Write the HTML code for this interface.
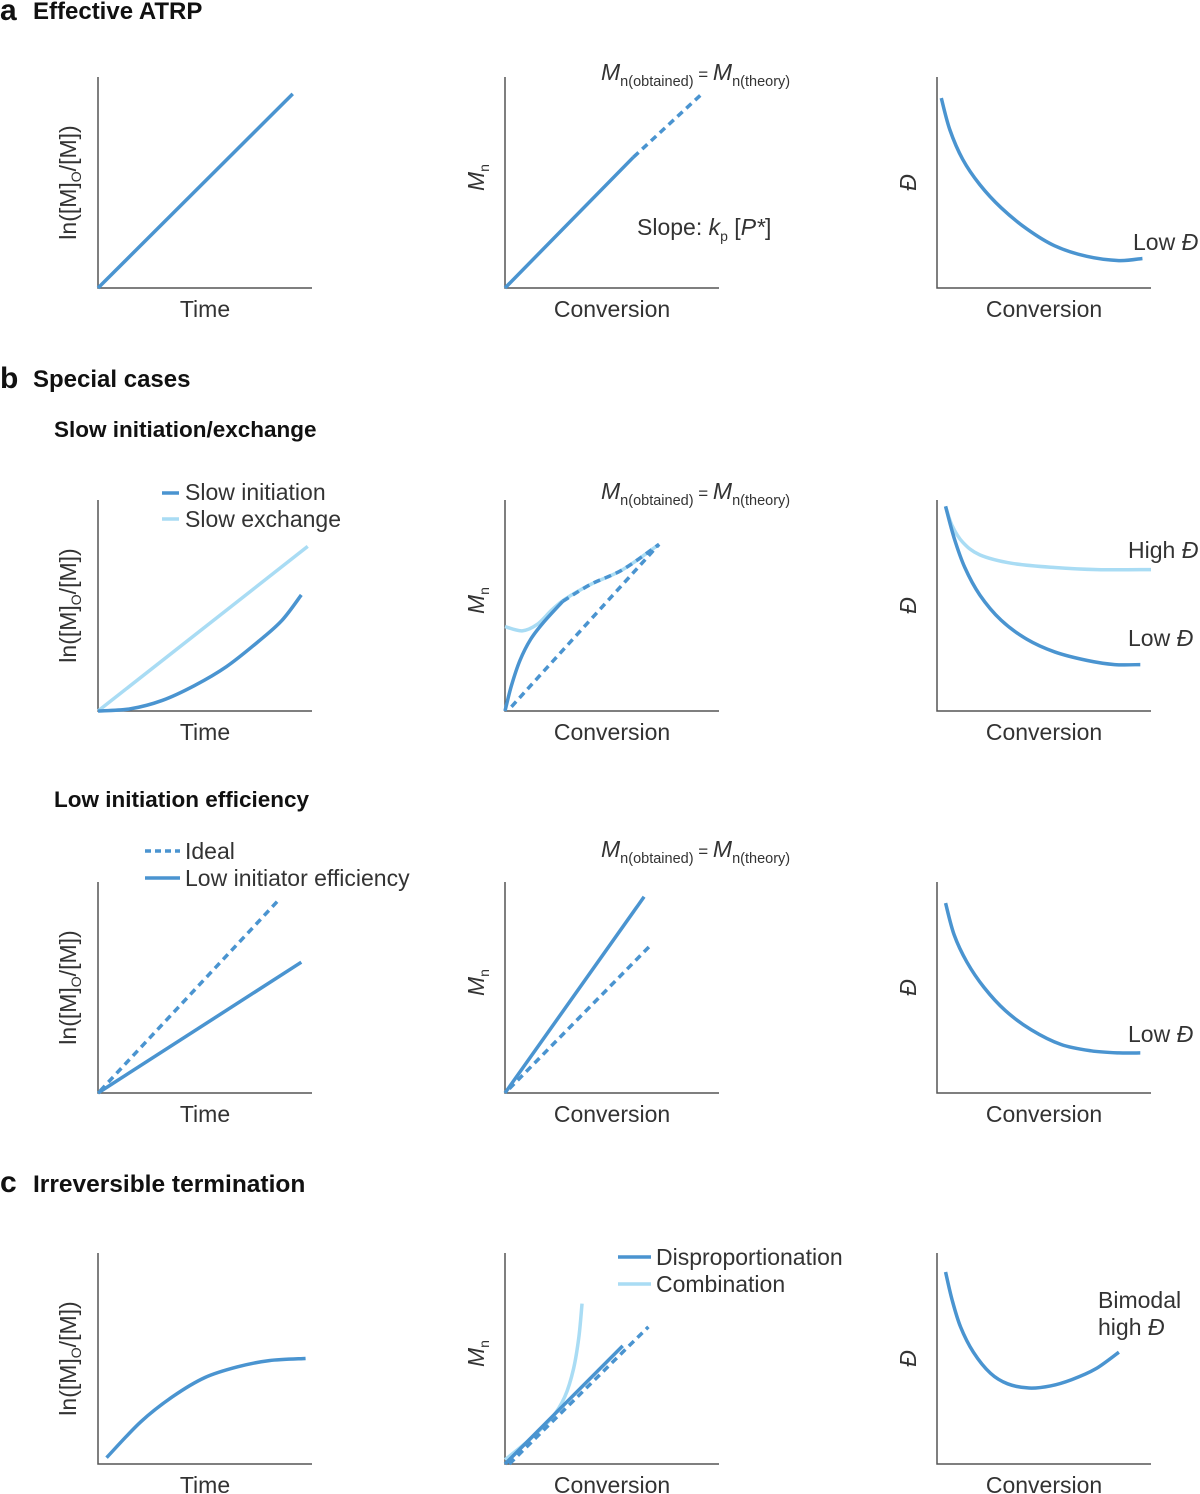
<!DOCTYPE html>
<html><head><meta charset="utf-8"><style>
body{margin:0;background:#fff}
svg{display:block;font-family:"Liberation Sans",sans-serif}
.h{font-weight:bold;fill:#111}
.t{fill:#333;font-size:23px}
.s{fill:#333}
</style></head><body>
<svg id="fig" width="1200" height="1494" viewBox="0 0 1200 1494" xmlns="http://www.w3.org/2000/svg">
<g>
<text class="h" x="0" y="20" font-size="30">a</text>
<text class="h" x="33" y="19" font-size="24">Effective ATRP</text>
<text class="h" x="0" y="388" font-size="30">b</text>
<text class="h" x="33" y="387" font-size="24">Special cases</text>
<text class="h" x="54" y="437" font-size="22.5">Slow initiation/exchange</text>
<text class="h" x="54" y="807" font-size="22.5">Low initiation efficiency</text>
<text class="h" x="0" y="1192" font-size="30">c</text>
<text class="h" x="33" y="1192" font-size="24.5">Irreversible termination</text>
</g>
<g id="plots"></g>
<g>
<text class="t" x="637" y="235">Slope: <tspan font-style="italic">k</tspan><tspan font-size="14" dy="6">p</tspan><tspan dy="-6"> [</tspan><tspan font-style="italic">P*</tspan>]</text>
<text class="t" x="1133" y="250">Low <tspan font-style="italic">Đ</tspan></text>
<text class="t" x="1128" y="558">High <tspan font-style="italic">Đ</tspan></text>
<text class="t" x="1128" y="646">Low <tspan font-style="italic">Đ</tspan></text>
<text class="t" x="1128" y="1042">Low <tspan font-style="italic">Đ</tspan></text>
<text class="t" x="1098" y="1308">Bimodal</text>
<text class="t" x="1098" y="1335">high <tspan font-style="italic">Đ</tspan></text>
<line x1="162" y1="493" x2="179" y2="493" stroke="#4a94d0" stroke-width="3.5"/>
<text class="t" x="185" y="500">Slow initiation</text>
<line x1="162" y1="519" x2="179" y2="519" stroke="#a9dcf4" stroke-width="3.5"/>
<text class="t" x="185" y="527">Slow exchange</text>
<line x1="145" y1="851" x2="180" y2="851" stroke="#4a94d0" stroke-width="3.5" stroke-dasharray="6,4"/>
<text class="t" x="185" y="859">Ideal</text>
<line x1="145" y1="878" x2="180" y2="878" stroke="#4a94d0" stroke-width="3.5"/>
<text class="t" x="185" y="886">Low initiator efficiency</text>
<line x1="618" y1="1257" x2="651" y2="1257" stroke="#4a94d0" stroke-width="3.5"/>
<text class="t" x="656" y="1265">Disproportionation</text>
<line x1="618" y1="1284" x2="651" y2="1284" stroke="#a9dcf4" stroke-width="3.5"/>
<text class="t" x="656" y="1292">Combination</text>
</g>
</svg>
<script>
// column/row layout
const colX = [98, 505, 937];
const rowBottom = [288, 711, 1093, 1464];
const W = 214, H = 211;
// series data (x,y in 0-100 units)
const aKin = [[0,0],[91,92]];
const aMnSolid = [[0,0],[60,62]];
const aMnDash = [[60,62],[92,92]];
const aD = [[2,90],[6,75],[12,61],[20,49],[30,38],[42,28],[55,20],[70,15],[85,13],[96,14]];
const b1Light = [[0,0],[98,78]];
const b1Dark = [[0,0],[15,1],[30,5],[45,12],[60,21],[75,33],[86,43],[95,55]];
const b1Ideal = [[3,2],[72,79]];
const b1MnLight = [[0,40],[8,38],[15,41],[22,48],[28,53],[40,60],[55,67],[72,79]];
const b1MnDark = [[0,0],[3,12],[7,24],[12,34],[18,42],[27,52]];
const b1MnDarkDash = [[27,52],[40,60],[55,67],[72,79]];
const b1High = [[4,97],[7,88],[12,80],[20,74],[35,70],[55,68],[75,67],[100,67]];
const b1Low = [[4,97],[8,82],[13,68],[20,55],[30,43],[42,34],[55,28],[70,24],[83,22],[95,22]];
const b2Ideal = [[1,1],[84,91]];
const b2Low = [[0,0],[95,62]];
const b2MnSolid = [[0,0],[65,93]];
const b2MnDash = [[2,2],[68,70]];
const b2D = [[4,90],[8,75],[14,62],[22,50],[32,39],[44,30],[58,23],[72,20],[85,19],[95,19]];
const cKin = [[4,3],[20,20],[35,32],[50,41],[65,46],[80,49],[97,50]];
const cMnDash = [[2,0],[67,65]];
const cMnSolid = [[0,0],[55,56]];
const cMnLight = [[0,2],[12,12],[22,22],[28,32],[32,45],[34.5,60],[36,76]];
const cD = [[4,91],[7,78],[11,65],[17,53],[25,43],[33,38],[43,36],[53,37],[63,40],[74,45],[85,53]];

const DARK = '#4a94d0', LIGHT = '#a9dcf4';
const svgNS = 'http://www.w3.org/2000/svg';
const plots = document.getElementById('plots');
function sx(c, v){ return colX[c] + v / 100 * W; }
function sy(r, v){ return rowBottom[r] - v / 100 * H; }
function pathD(c, r, pts){
  if (pts.length === 2) return 'M' + sx(c,pts[0][0]) + ',' + sy(r,pts[0][1]) + 'L' + sx(c,pts[1][0]) + ',' + sy(r,pts[1][1]);
  const P = pts.map(p => [sx(c,p[0]), sy(r,p[1])]);
  let d = 'M' + P[0][0] + ',' + P[0][1];
  for (let i = 0; i < P.length - 1; i++) {
    const p0 = P[i-1] || P[i], p1 = P[i], p2 = P[i+1], p3 = P[i+2] || p2;
    d += 'C' + (p1[0]+(p2[0]-p0[0])/6) + ',' + (p1[1]+(p2[1]-p0[1])/6) + ' ' + (p2[0]-(p3[0]-p1[0])/6) + ',' + (p2[1]-(p3[1]-p1[1])/6) + ' ' + p2[0] + ',' + p2[1];
  }
  return d;
}
function series(c, r, pts, color, dashed, name){
  const p = document.createElementNS(svgNS, 'path');
  p.setAttribute('d', pathD(c, r, pts));
  p.setAttribute('fill', 'none');
  p.setAttribute('stroke', color);
  p.setAttribute('stroke-width', '3.5');
  if (dashed) p.setAttribute('stroke-dasharray', '7,5');
  
  
  plots.appendChild(p);
}
function txt(x, y, html, attrs, name){
  const t = document.createElementNS(svgNS, 'text');
  t.setAttribute('x', x); t.setAttribute('y', y);
  for (const k in attrs) t.setAttribute(k, attrs[k]);
  t.innerHTML = html;
  
  
  plots.appendChild(t);
}
const yLabels = ['ln([M]<tspan font-size="14" dy="5">O</tspan><tspan dy="-5">/[M])</tspan>', '<tspan font-style="italic">M</tspan><tspan font-size="14" dy="5">n</tspan>', '<tspan font-style="italic">Đ</tspan>'];
const yLabelX = [76, 484, 916];
const xLabels = ['Time', 'Conversion', 'Conversion'];
for (let r = 0; r < 4; r++) for (let c = 0; c < 3; c++) {
  const ax = document.createElementNS(svgNS, 'path');
  ax.setAttribute('d', 'M' + colX[c] + ',' + (rowBottom[r]-H) + 'V' + rowBottom[r] + 'H' + (colX[c]+W));
  ax.setAttribute('fill', 'none'); ax.setAttribute('stroke', '#555'); ax.setAttribute('stroke-width', '1.5');
  
  
  plots.appendChild(ax);
  txt(colX[c] + W/2, rowBottom[r] + 29, xLabels[c], {'class':'t','text-anchor':'middle'}, 'x-axis-title-r' + r + '-c' + c);
  const cy = rowBottom[r] - H/2 + (c === 0 ? 0 : c === 1 ? -5 : 0);
  txt(yLabelX[c], cy, yLabels[c], {'class':'t','text-anchor':'middle','transform':'rotate(-90 ' + yLabelX[c] + ' ' + cy + ')'}, 'y-axis-title-r' + r + '-c' + c);
}
const mnEq = '<tspan font-style="italic" font-size="23">M</tspan><tspan font-size="14.5" dy="6">n(obtained)</tspan><tspan font-size="17" dy="-6"> = </tspan><tspan font-style="italic" font-size="23">M</tspan><tspan font-size="14.5" dy="6">n(theory)</tspan>';
[80, 499, 857].forEach((y, i) => txt(601, y, mnEq, {'class':'s'}, 'mn-equation-' + i));

series(0,0,aKin,DARK,false,'a-kinetics-line');
series(1,0,aMnSolid,DARK,false,'a-mn-line');
series(1,0,aMnDash,DARK,true,'a-mn-theory-dash');
series(2,0,aD,DARK,false,'a-dispersity-curve');
series(0,1,b1Light,LIGHT,false,'b1-slow-exchange-kinetics');
series(0,1,b1Dark,DARK,false,'b1-slow-initiation-kinetics');
series(1,1,b1MnLight,LIGHT,false,'b1-slow-exchange-mn');
series(1,1,b1MnDark,DARK,false,'b1-slow-initiation-mn');
series(1,1,b1MnDarkDash,DARK,true,'b1-slow-initiation-mn-dash');
series(1,1,b1Ideal,DARK,true,'b1-theory-dash');
series(2,1,b1High,LIGHT,false,'b1-high-dispersity');
series(2,1,b1Low,DARK,false,'b1-low-dispersity');
series(0,2,b2Ideal,DARK,true,'b2-ideal-kinetics');
series(0,2,b2Low,DARK,false,'b2-low-efficiency-kinetics');
series(1,2,b2MnSolid,DARK,false,'b2-mn-solid');
series(1,2,b2MnDash,DARK,true,'b2-mn-dash');
series(2,2,b2D,DARK,false,'b2-dispersity-curve');
series(0,3,cKin,DARK,false,'c-kinetics-curve');
series(1,3,cMnLight,LIGHT,false,'c-combination-mn');
series(1,3,cMnSolid,DARK,false,'c-disproportionation-mn');
series(1,3,cMnDash,DARK,true,'c-theory-dash');
series(2,3,cD,DARK,false,'c-dispersity-curve');
</script>
</body></html>
